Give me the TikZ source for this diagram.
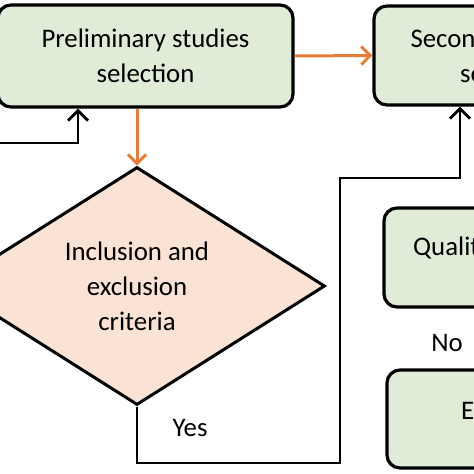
\documentclass[tikz,border=0pt]{standalone}
\usepackage{fontspec}
\setmainfont{Carlito}
\usetikzlibrary{arrows.meta,shapes.geometric}
\definecolor{boxgreen}{RGB}{224,236,215}
\definecolor{peach}{RGB}{250,227,212}
\definecolor{arrorange}{RGB}{231,125,55}
\begin{document}
\begin{tikzpicture}[x=1pt,y=-1pt,font=\fontsize{26.8}{35}\selectfont,
  procbox/.style={draw=black,line width=3.2pt,rounded corners=13pt,fill=boxgreen,align=center,inner sep=0pt},
  blackarrow/.style={draw=black,line width=2.8pt,-{Straight Barb[length=10pt,width=20pt,line width=2.8pt]}},
  orangearrow/.style={draw=arrorange,line width=3pt,-{Straight Barb[length=9pt,width=18pt,line width=3pt]}},
  plaintext/.style={inner sep=0pt}]
\useasboundingbox (0,0) rectangle (474,474);
\clip (0,0) rectangle (474,474);
\node[procbox,minimum width=295pt,minimum height=102pt] (prelim) at (145.5,56) {Preliminary studies\\selection};
\node[procbox,minimum width=270pt,minimum height=99pt] (second) at (509,55.5) {Secondary studies\\selection};
\node[procbox,minimum width=260pt,minimum height=99pt] (quality) at (514,257.5) {};
\node[plaintext,anchor=west] (qtext) at (413,248) {Quality assessment};
\node[procbox,minimum width=260pt,minimum height=98pt] (extract) at (517,419) {};
\node[plaintext,anchor=west] (etext) at (461,410) {Extraction};
\node[diamond,draw=black,line width=3pt,fill=peach,minimum width=376pt,minimum height=238pt,inner sep=0pt,align=center] (crit) at (137,286) {Inclusion and\\exclusion\\criteria};
\node[plaintext] (yes) at (190,428) {Yes};
\node[plaintext] (no) at (447,343) {No};
\coordinate (fbstart) at (-5,143);
\coordinate (yc1) at (340,463);
\coordinate (yc2) at (340,178);
\draw[orangearrow] (prelim.east) -- (second.west);
\draw[orangearrow] (crit.north |- prelim.south) -- (crit.north);
\draw[blackarrow] (fbstart) -| ([xshift=-67.5pt]prelim.south);
\draw[blackarrow] (crit.south) |- (yc1) -- (yc2) -| ([xshift=-49pt]second.south);
\end{tikzpicture}
\end{document}
